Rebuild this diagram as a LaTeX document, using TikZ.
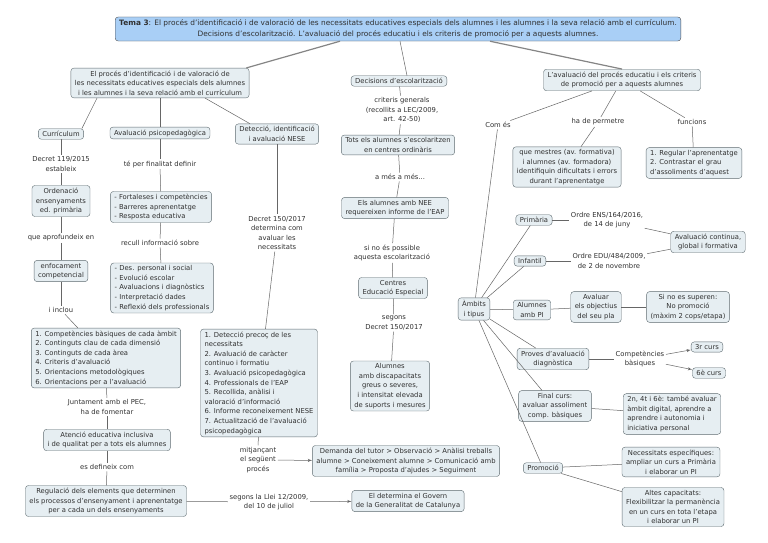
\documentclass[tikz,border=0pt]{standalone}
\usepackage{fontspec}
\usepackage{tikz}
\usetikzlibrary{arrows}
\newfontfamily\mapfamily{DejaVu Sans}[Ligatures=TeX]
\newcommand{\mapsize}{\mapfamily\fontsize{6.8pt}{9.6pt}\selectfont}
\newcommand{\titlesize}{\mapfamily\fontsize{7.4pt}{10.6pt}\selectfont}
\definecolor{conceptfill}{HTML}{E6EEF2}
\definecolor{conceptline}{HTML}{5E6B70}
\definecolor{titlefill}{HTML}{A9CFF6}
\definecolor{linkgray}{HTML}{666666}
\definecolor{textgray}{HTML}{303030}
\tikzset{
>=latex', % small filled arrow heads
concept/.style={draw=conceptline, fill=conceptfill, rounded corners=3pt, align=center, inner xsep=4pt, inner ysep=2.5pt, font=\mapsize, text=textgray}, % every concept box
conceptleft/.style={concept, align=left}, % boxes with lists
phrase/.style={align=center, inner sep=1.5pt, font=\mapsize, text=textgray}, % linking phrases
link/.style={draw=linkgray, line width=0.5pt}, % plain connectors
trunk/.style={draw=linkgray!80, line width=1.2pt}, % connectors from the title
}

\begin{document}
\begin{tikzpicture}[x=1pt, y=-1pt]
    \useasboundingbox[fill=white] (0,0) rectangle (768,543);

    % title
    \node[concept, fill=titlefill, draw=black!70, inner ysep=3pt, font=\titlesize] (tit) at (398,29)
        {\textbf{Tema 3}: El procés d'identificació i de valoració de les necessitats educatives especials dels alumnes i les alumnes i la seva relació amb el currículum.\\
         Decisions d'escolarització. L'avaluació del procés educatiu i els criteris de promoció per a aquests alumnes.};

    % left branch
    \node[concept] (proc) at (160,83) {El procés d'identificació i de valoració de\\ les necessitats educatives especials dels alumnes\\ i les alumnes i la seva relació amb el currículum};
    \node[concept] (cur) at (61,134) {Currículum};
    \node[concept] (psico) at (160,133) {Avaluació psicopedagògica};
    \node[concept] (nese) at (277,134) {Detecció, identificació\\ i avaluació NESE};
    \node[phrase] (l119) at (61,164) {Decret 119/2015\\ estableix};
    \node[concept] (ord) at (61,201) {Ordenació\\ ensenyaments\\ ed. primària};
    \node[phrase] (lfin) at (160,164) {té per finalitat definir};
    \node[conceptleft] (fort) at (161,207) {- Fortaleses i competències\\ - Barreres aprenentatge\\ - Resposta educativa};
    \node[phrase] (lapro) at (61,238) {que aprofundeix en};
    \node[phrase] (lrec) at (160,243) {recull informació sobre};
    \node[concept] (enf) at (61,271) {enfocament\\ competencial};
    \node[conceptleft] (desp) at (162,288) {- Des. personal i social\\ - Evolució escolar\\ - Avaluacions i diagnòstics\\ - Interpretació dades\\ - Reflexió dels professionals};
    \node[phrase] (linc) at (61,310) {i inclou};
    \node[conceptleft] (comp) at (106,358) {1. Competències bàsiques de cada àmbit\\ 2. Continguts clau de cada dimensió\\ 3. Continguts de cada àrea\\ 4. Criteris d'avaluació\\ 5. Orientacions metodològiques\\ 6. Orientacions per a l'avaluació};
    \node[phrase] (l150) at (277,233) {Decret 150/2017\\ determina com\\ avaluar les\\ necessitats};
    \node[conceptleft] (det) at (259,383) {1. Detecció precoç de les\\ necessitats\\ 2. Avaluació de caràcter\\ continuo i formatiu\\ 3. Avaluació psicopedagògica\\ 4. Professionals de l'EAP\\ 5. Recollida, anàlisi i\\ valoració d'informació\\ 6. Informe reconeixement NESE\\ 7. Actualització de l'avaluació\\ psicopedagògica};
    \node[phrase] (ljunt) at (107,407) {Juntament amb el PEC,\\ ha de fomentar};
    \node[concept] (aten) at (107,440) {Atenció educativa inclusiva\\ i de qualitat per a tots els alumnes};
    \node[phrase] (ldef) at (107,467) {es defineix com};
    \node[concept] (reg) at (106,501) {Regulació dels elements que determinen\\ els processos d'ensenyament i aprenentatge\\ per a cada un dels ensenyaments};
    \node[phrase] (llei) at (269,502) {segons la Llei 12/2009,\\ del 10 de juliol};
    \node[concept] (gov) at (408,501) {El determina el Govern\\ de la Generalitat de Catalunya};
    \node[phrase] (lmit) at (258,460) {mitjançant\\ el següent\\ procés};
    \node[concept] (dem) at (406,461) {Demanda del tutor > Observació > Anàlisi treballs\\ alumne > Coneixement alumne > Comunicació amb\\ família > Proposta d'ajudes > Seguiment};

    % middle branch
    \node[concept] (dec) at (399,81) {Decisions d'escolarització};
    \node[phrase] (lcrit) at (402,110) {criteris generals\\ (recollits a LEC/2009,\\ art. 42-50)};
    \node[concept] (tots) at (398,145) {Tots els alumnes s'escolaritzen\\ en centres ordinàris};
    \node[phrase] (lmes) at (400,177) {a més a més...};
    \node[concept] (nee) at (395,208) {Els alumnes amb NEE\\ requereixen informe de l'EAP};
    \node[phrase] (lsino) at (392,253) {si no és possible\\ aquesta escolarització};
    \node[concept] (cee) at (393,288) {Centres\\ Educació Especial};
    \node[phrase] (lseg) at (394,323) {segons\\ Decret 150/2017};
    \node[concept] (disc) at (390,386) {Alumnes\\ amb discapacitats\\ greus o severes,\\ i intensitat elevada\\ de suports i mesures};

    % right branch
    \node[concept] (aval) at (622,80) {L'avaluació del procés educatiu i els criteris\\ de promoció per a aquests alumnes};
    \node[phrase] (lcom) at (498,125) {Com és};
    \node[phrase] (lperm) at (598,122) {ha de permetre};
    \node[phrase] (lfunc) at (692,122) {funcions};
    \node[concept] (mest) at (567,167) {que mestres (av. formativa)\\ i alumnes (av. formadora)\\ identifiquin dificultats i errors\\ durant l'aprenentatge};
    \node[conceptleft] (regu) at (694,163) {1. Regular l'aprenentatge\\ 2. Contrastar el grau\\ d'assoliments d'aquest};
    \node[concept] (amb) at (474,309) {Àmbits\\ i tipus};
    \node[concept] (prim) at (534,220) {Primària};
    \node[phrase] (lens) at (607,220) {Ordre ENS/164/2016,\\ de 14 de juny};
    \node[concept] (inf) at (530,261) {Infantil};
    \node[phrase] (ledu) at (609,261) {Ordre EDU/484/2009,\\ de 2 de novembre};
    \node[concept] (cont) at (708,242) {Avaluació continua,\\ global i formativa};
    \node[concept] (pi) at (532,310) {Alumnes\\ amb PI};
    \node[concept] (obj) at (596,307) {Avaluar\\ els objectius\\ del seu pla};
    \node[concept] (sino) at (688,307) {Si no es superen:\\ No promoció\\ (màxim 2 cops/etapa)};
    \node[concept] (prov) at (553,359) {Proves d'avaluació\\ diagnòstica};
    \node[phrase] (lcb) at (640,359) {Competències\\ bàsiques};
    \node[concept] (c3) at (707,347) {3r curs};
    \node[concept] (c6) at (709,373) {6è curs};
    \node[concept] (fin) at (555,406) {Final curs:\\ avaluar assoliment\\ comp. bàsiques};
    \node[conceptleft] (dig) at (672,414) {2n, 4t i 6è: també avaluar\\ àmbit digital, aprendre a\\ aprendre i autonomia i\\ iniciativa personal};
    \node[concept] (prom) at (543,468) {Promoció};
    \node[concept] (nesp) at (671,462) {Necessitats específiques:\\ ampliar un curs a Primària\\ i elaborar un PI};
    \node[concept] (altes) at (673,507) {Altes capacitats:\\ Flexibilitzar la permanència\\ en un curs en tota l'etapa\\ i elaborar un PI};

    % connectors from the title
    \draw[trunk] ([xshift=-58pt]tit.south) -- ([xshift=-3pt]proc.north east);
    \draw[link] ([xshift=2pt]tit.south) -- ([xshift=8pt]dec.north);
    \draw[trunk] ([xshift=92pt]tit.south) -- (aval.north);

    % left branch
    \draw[link]
    ([xshift=-63pt]proc.south) edge ([xshift=-2pt]cur.north east)
    (proc) edge (psico)
    ([xshift=45pt]proc.south) edge ([xshift=-27pt]nese.north)
    (cur) edge (l119)
    (l119) edge (ord)
    (ord) edge (lapro)
    (lapro) edge (enf)
    (enf) edge (linc)
    (linc) edge (comp)
    (psico) edge (lfin)
    (lfin) edge (fort)
    (fort) edge (lrec)
    (lrec) edge (desp)
    (nese) edge (l150)
    (l150) edge (det)
    (comp) edge (ljunt)
    (ljunt) edge (aten)
    (aten) edge (ldef)
    (ldef) edge (reg)
    (reg) edge (llei)
    (det) edge (lmit);
    \draw[link, ->] (llei) -- (gov);
    \draw[link, ->] (lmit) -- (dem);

    % middle branch
    \draw[link]
    (dec) edge (lcrit)
    (lcrit) edge (tots)
    (tots) edge (lmes)
    (lmes) edge (nee)
    (nee) edge (lsino)
    (lsino) edge (cee)
    (cee) edge (lseg)
    (lseg) edge (disc);

    % right branch
    \draw[link]
    (aval) edge (lcom)
    (lcom) edge (amb)
    (aval) edge (lperm)
    (lperm) edge (mest)
    (aval) edge (lfunc)
    (lfunc) edge (regu)
    (amb) edge (prim)
    (amb) edge (inf)
    (amb) edge (pi)
    (amb) edge (prov)
    (amb) edge (fin)
    (amb) edge (prom)
    (prim) edge (lens)
    (lens) edge (cont)
    (inf) edge (ledu)
    (ledu) edge (cont)
    (pi) edge (obj)
    (obj) edge (sino)
    (prov) edge (lcb)
    (fin) edge (dig)
    (prom) edge (nesp)
    (prom) edge (altes);
    \draw[link, ->] (lcb) -- (c3);
    \draw[link, ->] (lcb) -- (c6);
\end{tikzpicture}
\end{document}
